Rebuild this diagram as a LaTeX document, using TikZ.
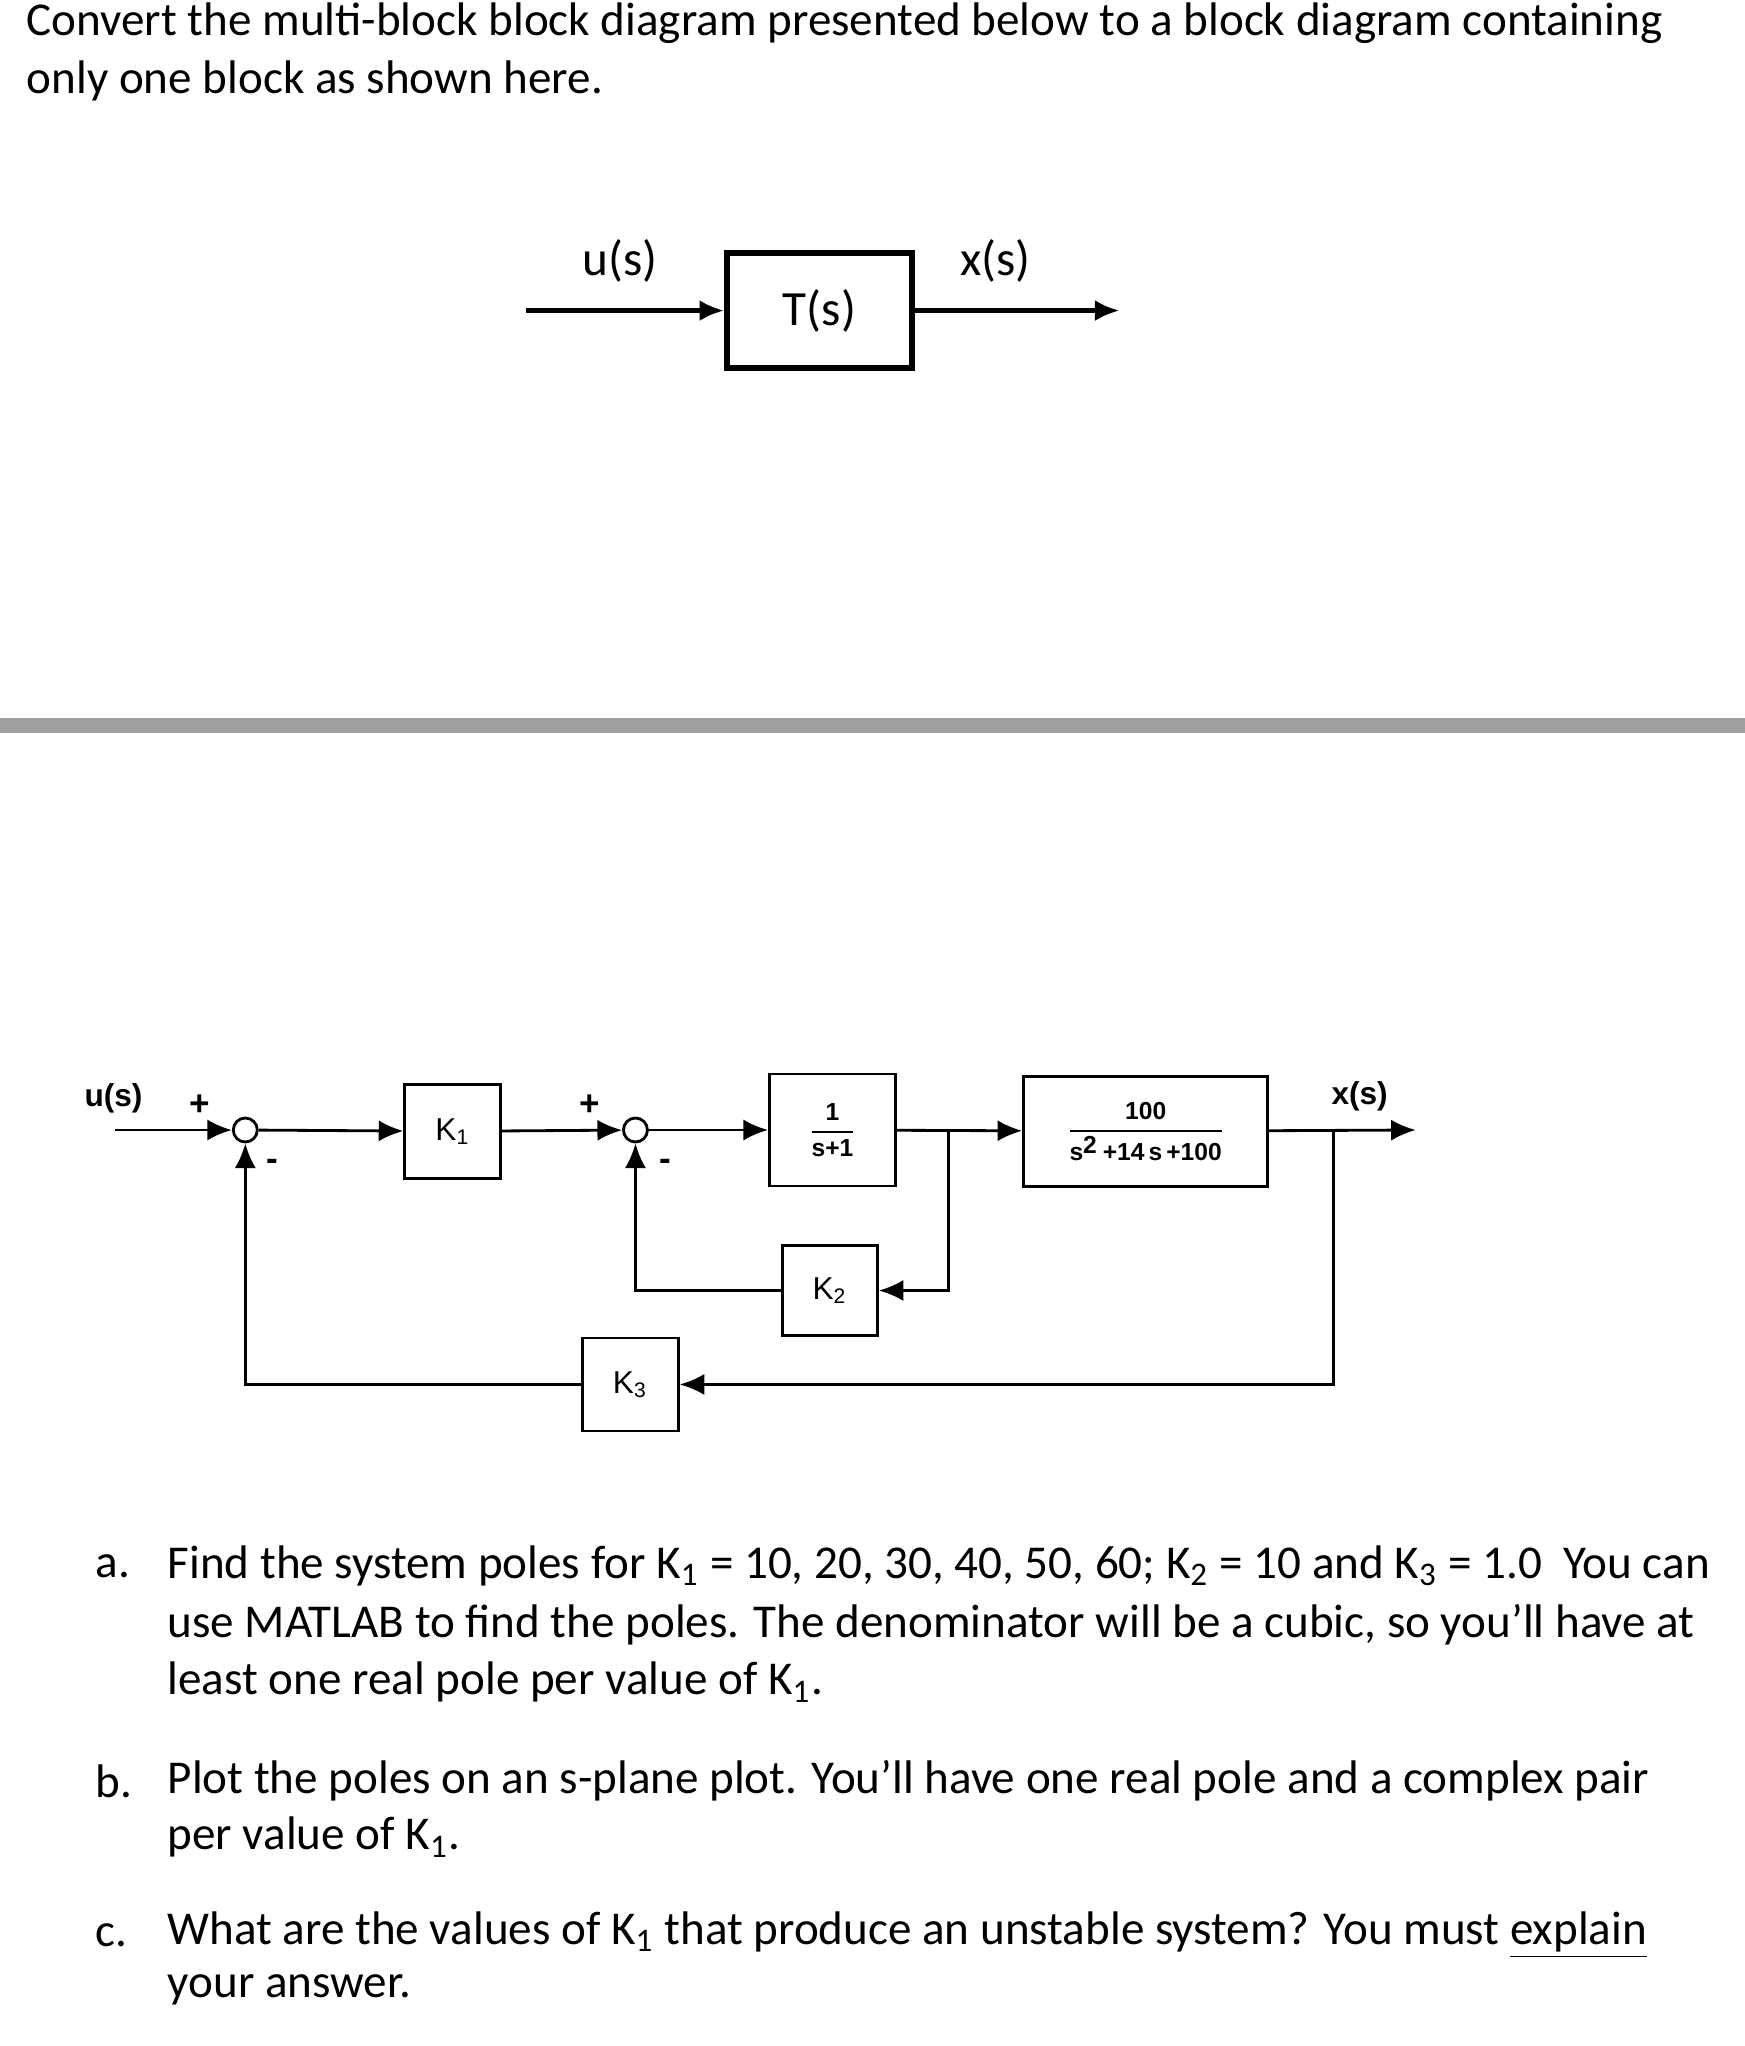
\documentclass[tikz,border=0pt]{standalone}
\usepackage{fontspec}
\setmainfont{Carlito}
\newfontfamily\arial{Liberation Sans}
\usetikzlibrary{arrows.meta,positioning}
\tikzset{
  blk/.style={draw, thick, rectangle, inner sep=0pt, font=\arial\small},
  sumpt/.style={draw, thick, circle, minimum size=0.24cm, inner sep=0pt},
  sig/.style={thick, -{Latex[length=7pt,width=6pt]}},
  txt/.style={anchor=west, font=\fontsize{13.4pt}{15pt}\selectfont, inner sep=0pt},
}
\begin{document}
\begin{tikzpicture}[x=0.013044cm, y=-0.013044cm]
\useasboundingbox (0,0) rectangle (1337,1568);

% question text
\node[txt] at (20,18) {Convert the multi-block block diagram presented below to a block diagram containing};
\node[txt] at (20,62) {only one block as shown here.};

% single block
\node[draw, line width=1.6pt, inner sep=0pt, minimum width=1.85cm, minimum height=1.15cm] (T) at (628,238)
  {\fontsize{14pt}{16pt}\selectfont T(s)};
\coordinate (uin) at (403,238);
\coordinate (xout) at (858,238);
\draw[line width=1.4pt, -{Latex[length=7pt,width=6pt]}] (uin) -- (T.west);
\draw[line width=1.4pt, -{Latex[length=7pt,width=6pt]}] (T.east) -- (xout);
\node[font=\fontsize{14pt}{16pt}\selectfont] at (475,200) {u(s)};
\node[font=\fontsize{14pt}{16pt}\selectfont] at (763,200) {x(s)};

% separator
\fill[gray!75] (0,550) rectangle (1337,562);

% multi-block diagram
\node[sumpt] (s1) at (188,866) {};
\node[sumpt] (s2) at (487,866) {};
\node[blk, minimum width=0.96cm, minimum height=0.94cm] (K1) at (347,867) {K\textsubscript{1}};
\node[blk, minimum width=1.26cm, minimum height=1.12cm, font=\arial\scriptsize\bfseries] (G1) at (638,866)
  {$\displaystyle\frac{\textbf{1}}{\textbf{s+1}}$};
\node[blk, minimum width=2.44cm, minimum height=1.1cm, font=\arial\scriptsize\bfseries] (G2) at (878,867)
  {$\displaystyle\frac{\textbf{100}}{\textbf{s}^{\textbf{2}}\textbf{\,+14\,s\,+100}}$};
\node[blk, minimum width=0.95cm, minimum height=0.9cm] (K2) at (636,989) {K\textsubscript{2}};
\node[blk, minimum width=0.96cm, minimum height=0.93cm] (K3) at (483,1061) {K\textsubscript{3}};

\coordinate (uin2) at (88,866);
\coordinate (xout2) at (1085,866);
\coordinate (b1) at (727,866);
\coordinate (b2) at (1022,866);

\draw[sig] (uin2) -- (s1);
\draw[sig] (s1) -- (K1);
\draw[sig] (K1) -- (s2);
\draw[sig] (s2) -- (G1);
\draw[sig] (G1) -- (G2);
\draw[sig] (G2) -- (xout2);
\draw[sig] (b1) |- (K2);
\draw[sig] (K2) -| (s2);
\draw[sig] (b2) |- (K3);
\draw[sig] (K3) -| (s1);

\node[font=\arial\bfseries\small] at (87,842) {u(s)};
\node[font=\arial\bfseries\small] at (1042,840) {x(s)};
\node[font=\arial\bfseries] at (153,847) {+};
\node[font=\arial\bfseries] at (452,847) {+};
\node[font=\arial\bfseries] at (209,893) {-};
\node[font=\arial\bfseries] at (510,893) {-};

% questions
\node[txt] at (73,1200) {a.};
\node[txt] at (128,1200) {Find the system poles for K\textsubscript{1} = 10, 20, 30, 40, 50, 60; K\textsubscript{2} = 10 and K\textsubscript{3} = 1.0\ \ You can};
\node[txt] at (128,1245) {use MATLAB to find the poles. The denominator will be a cubic, so you’ll have at};
\node[txt] at (128,1289) {least one real pole per value of K\textsubscript{1}.};
\node[txt] at (73,1365) {b.};
\node[txt] at (128,1365) {Plot the poles on an s-plane plot. You’ll have one real pole and a complex pair};
\node[txt] at (128,1408) {per value of K\textsubscript{1}.};
\node[txt] at (73,1483) {c.};
\node[txt] at (128,1483) {What are the values of K\textsubscript{1} that produce an unstable system? You must \underline{explain}};
\node[txt] at (128,1525) {your answer.};
\end{tikzpicture}
\end{document}
